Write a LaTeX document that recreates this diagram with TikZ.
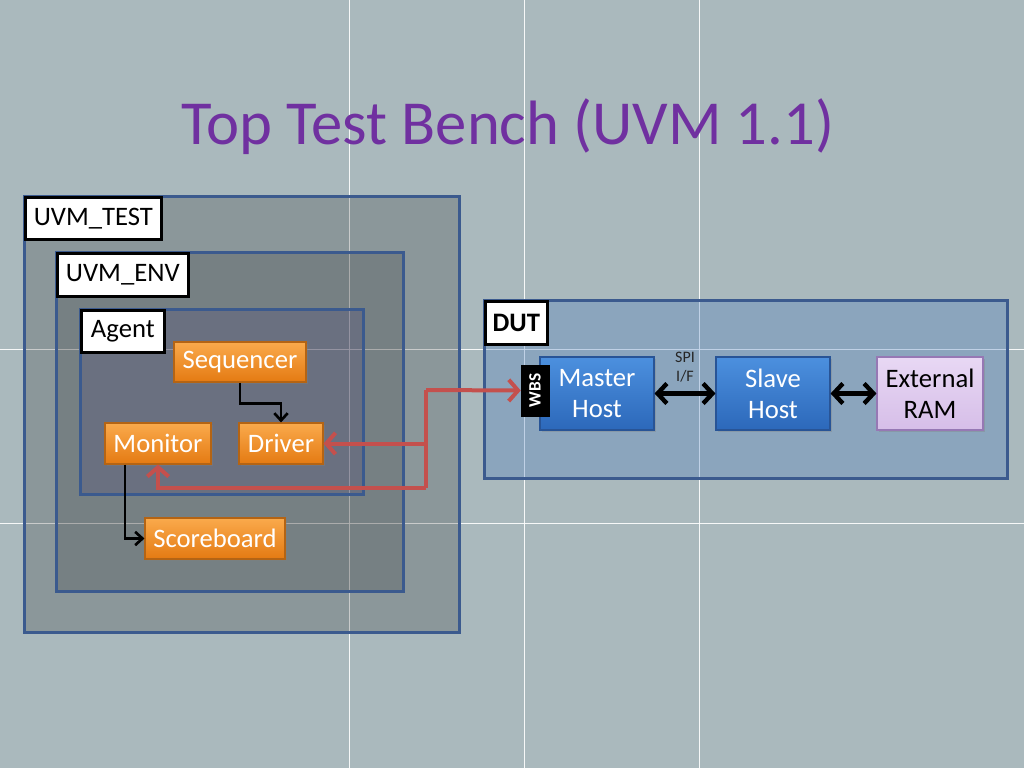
\documentclass[tikz,border=0pt]{standalone}
\usepackage{fontspec}
\setmainfont{Carlito}
\usetikzlibrary{arrows.meta,shadows}
\definecolor{bgc}{RGB}{170,185,189}
\definecolor{bordc}{RGB}{59,90,142}
\definecolor{titlec}{RGB}{112,48,160}
\definecolor{redc}{RGB}{196,80,77}
\definecolor{otop}{RGB}{250,170,76}
\definecolor{obot}{RGB}{228,122,18}
\definecolor{oedge}{RGB}{180,100,20}
\definecolor{btop}{RGB}{76,144,222}
\definecolor{bbot}{RGB}{44,104,186}
\definecolor{bedge}{RGB}{40,84,150}
\definecolor{ptop}{RGB}{232,216,244}
\definecolor{pbot}{RGB}{214,190,232}
\definecolor{pedge}{RGB}{150,120,180}
\definecolor{agentc}{RGB}{60,50,120}
\definecolor{dutc}{RGB}{70,120,190}
\tikzset{
  container/.style={draw=bordc, line width=2.25pt, inner sep=0pt},
  tagbox/.style={draw=black, fill=white, line width=2pt, inner sep=0pt, anchor=north west,
    font=\fontsize{20}{24}\selectfont},
  orbox/.style={draw=oedge, line width=0.8pt, top color=otop, bottom color=obot, text=white,
    inner sep=0pt, font=\fontsize{20}{24}\selectfont,
    drop shadow={opacity=0.35, shadow xshift=1.2pt, shadow yshift=-1.5pt}},
  blbox/.style={draw=bedge, line width=0.8pt, top color=btop, bottom color=bbot, text=white,
    inner sep=0pt, align=center, font=\fontsize{20}{23}\selectfont,
    minimum width=85.5pt, minimum height=54.75pt,
    drop shadow={opacity=0.35, shadow xshift=1.2pt, shadow yshift=-1.5pt}},
  redline/.style={draw=redc, line width=3pt, -{Straight Barb[length=7pt,width=16pt]}},
  blkline/.style={draw=black, line width=2pt, -{Straight Barb[length=5.5pt,width=10pt]}},
  dblline/.style={draw=black, line width=3.3pt, {Straight Barb[length=7pt,width=15pt]}-{Straight Barb[length=7pt,width=15pt]}},
  gridl/.style={draw=white, line width=0.75pt, opacity=0.9}
}
\begin{document}
\begin{tikzpicture}[x=0.75pt,y=-0.75pt]
\fill[bgc] (0,0) rectangle (1024,768);
\useasboundingbox (0,0) rectangle (1024,768);
% grid lines
\foreach \gx in {349,524,699} \draw[gridl] (\gx,0) -- (\gx,768);
\foreach \gy in {349,523} \draw[gridl] (0,\gy) -- (1024,\gy);
% title
\node[text=titlec, font=\fontsize{47}{51}\selectfont] (title) at (508,127) {Top Test Bench (UVM 1.1)};
% containers
\node[container, fill=black, fill opacity=0.18, minimum width=326.25pt, minimum height=327pt] (test) at (241.5,414) {};
\node[container, fill=black, fill opacity=0.15, minimum width=260.25pt, minimum height=254.25pt] (env) at (229.5,421.5) {};
\node[container, fill=agentc, fill opacity=0.2, minimum width=212.25pt, minimum height=138.75pt] (agent) at (221.5,401.5) {};
\node[container, fill=dutc, fill opacity=0.3, minimum width=392.25pt, minimum height=133.5pt] (dut) at (745.5,389) {};
% tags
\node[tagbox, minimum width=102pt, minimum height=31.5pt] (ttest) at (24,196) {UVM\_TEST};
\node[tagbox, minimum width=98.25pt, minimum height=32.25pt] (tenv) at (56,252) {UVM\_ENV};
\node[tagbox, minimum width=62.25pt, minimum height=31.5pt] (tagent) at (80,309) {Agent};
\node[tagbox, minimum width=46.5pt, minimum height=32.25pt, font=\fontsize{20}{24}\selectfont\bfseries] (tdut) at (484,300) {DUT};
% agent blocks
\node[orbox, minimum width=99pt, minimum height=30pt] (seq) at (240,362) {Sequencer};
\node[orbox, minimum width=79.5pt, minimum height=30.75pt] (mon) at (158,443.5) {Monitor};
\node[orbox, minimum width=63pt, minimum height=30.75pt] (drv) at (281,443.5) {Driver};
\node[orbox, minimum width=105pt, minimum height=30.75pt] (sb) at (215,538.5) {Scoreboard};
% DUT blocks
\node[blbox] (mh) at (597,393.5) {Master\\Host};
\node[blbox] (sh) at (773,393.5) {Slave\\Host};
\node[blbox, top color=ptop, bottom color=pbot, draw=pedge, text=black, minimum width=79.5pt] (ram) at (930,393.5) {External\\RAM};
\node[fill=black, draw=black, minimum width=21pt, minimum height=38.25pt, inner sep=0pt] (wbs) at (535,390.5) {};
\node[text=white, rotate=90, font=\fontsize{13}{14}\selectfont\bfseries] (wbst) at (wbs.center) {WBS};
\node[align=center, font=\fontsize{12}{14.5}\selectfont, text=black!85] (spi) at (685,367) {SPI\\I/F};
% connectors
\draw[blkline] (seq.south) -- ++(0,21) -| (drv.north);
\draw[blkline] ([xshift=-24.75pt]mon.south) |- (sb.west);
\draw[dblline] (mh.east) -- (sh.west);
\draw[dblline] (sh.east) -- (ram.west);
\coordinate (J) at (426,390);
\coordinate (Jb) at (426,488);
\draw[redline] (J) -- (wbs.west);
\draw[redline, -] (J) -- (Jb);
\draw[redline] (Jb) -| (mon.south);
\draw[redline] (drv.east -| J) -- (drv.east);
\end{tikzpicture}
\end{document}
